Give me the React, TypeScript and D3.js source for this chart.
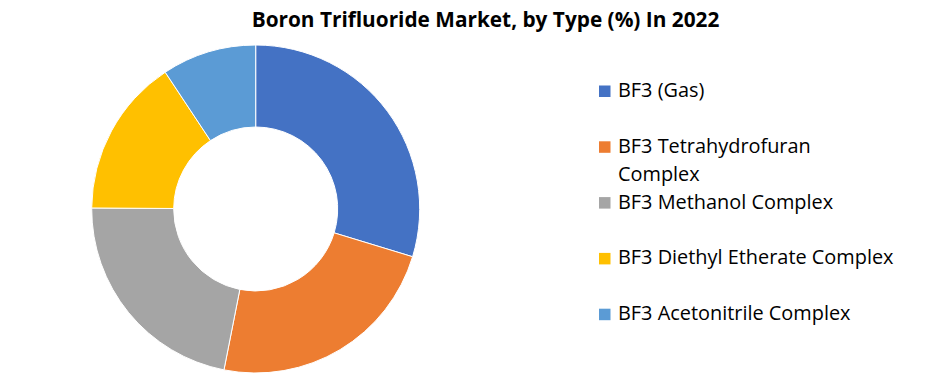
import React from "react";
import * as d3 from "d3";

const categories = [
  "BF3 (Gas)",
  "BF3 Tetrahydrofuran Complex",
  "BF3 Methanol Complex",
  "BF3 Diethyl Etherate Complex",
  "BF3 Acetonitrile Complex",
];
const shares = [29.7, 23.4, 22.0, 15.6, 9.3];
const legendLines = [
  ["BF3 (Gas)"],
  ["BF3 Tetrahydrofuran", "Complex"],
  ["BF3 Methanol Complex"],
  ["BF3 Diethyl Etherate Complex"],
  ["BF3 Acetonitrile Complex"],
];
const colors = ["#4472C4", "#ED7D31", "#A5A5A5", "#FFC000", "#5B9BD5"];
const title = "Boron Trifluoride Market, by Type (%) In 2022";

export default function App() {
  const W = 941;
  const H = 376;
  const cx = 255.7;
  const cy = 209;
  const outerR = 164;
  const innerR = 82;

  const pie = d3
    .pie<number>()
    .value((d) => d)
    .sort(null)
    .startAngle(0)
    .endAngle(2 * Math.PI);
  const arcs = pie(shares);
  const arcGen = d3
    .arc<d3.PieArcDatum<number>>()
    .innerRadius(innerR)
    .outerRadius(outerR);

  const color = d3.scaleOrdinal<string, string>().domain(categories).range(colors);
  const legendY = d3
    .scalePoint<string>()
    .domain(categories)
    .range([97, 320.2]);

  const font = "'Open Sans', 'Noto Sans', sans-serif";

  return (
    <svg
      width={W}
      height={H}
      style={{ position: "absolute", left: 0, top: 0, background: "#fff" }}
    >
      <rect width={W} height={H} fill="#fff" />
      <text
        x={485.5}
        y={26.5}
        textAnchor="middle"
        fontFamily={font}
        fontWeight="bold"
        fontSize={20.8}
        fill="#000"
      >
        {title}
      </text>
      <g transform={`translate(${cx},${cy})`}>
        {arcs.map((a, i) => (
          <path
            key={i}
            d={arcGen(a) || ""}
            fill={color(categories[i])}
            stroke="#fff"
            strokeWidth={1}
          />
        ))}
      </g>
      <g>
        {categories.map((c, i) => {
          const y = legendY(c) as number;
          return (
            <g key={c}>
              <rect x={599} y={y - 11.5} width={11.5} height={11.5} fill={color(c)} />
              {legendLines[i].map((ln, j) => (
                <text
                  key={j}
                  x={618}
                  y={y + j * 28}
                  fontFamily={font}
                  fontSize={19.9}
                  fill="#000"
                >
                  {ln}
                </text>
              ))}
            </g>
          );
        })}
      </g>
    </svg>
  );
}
